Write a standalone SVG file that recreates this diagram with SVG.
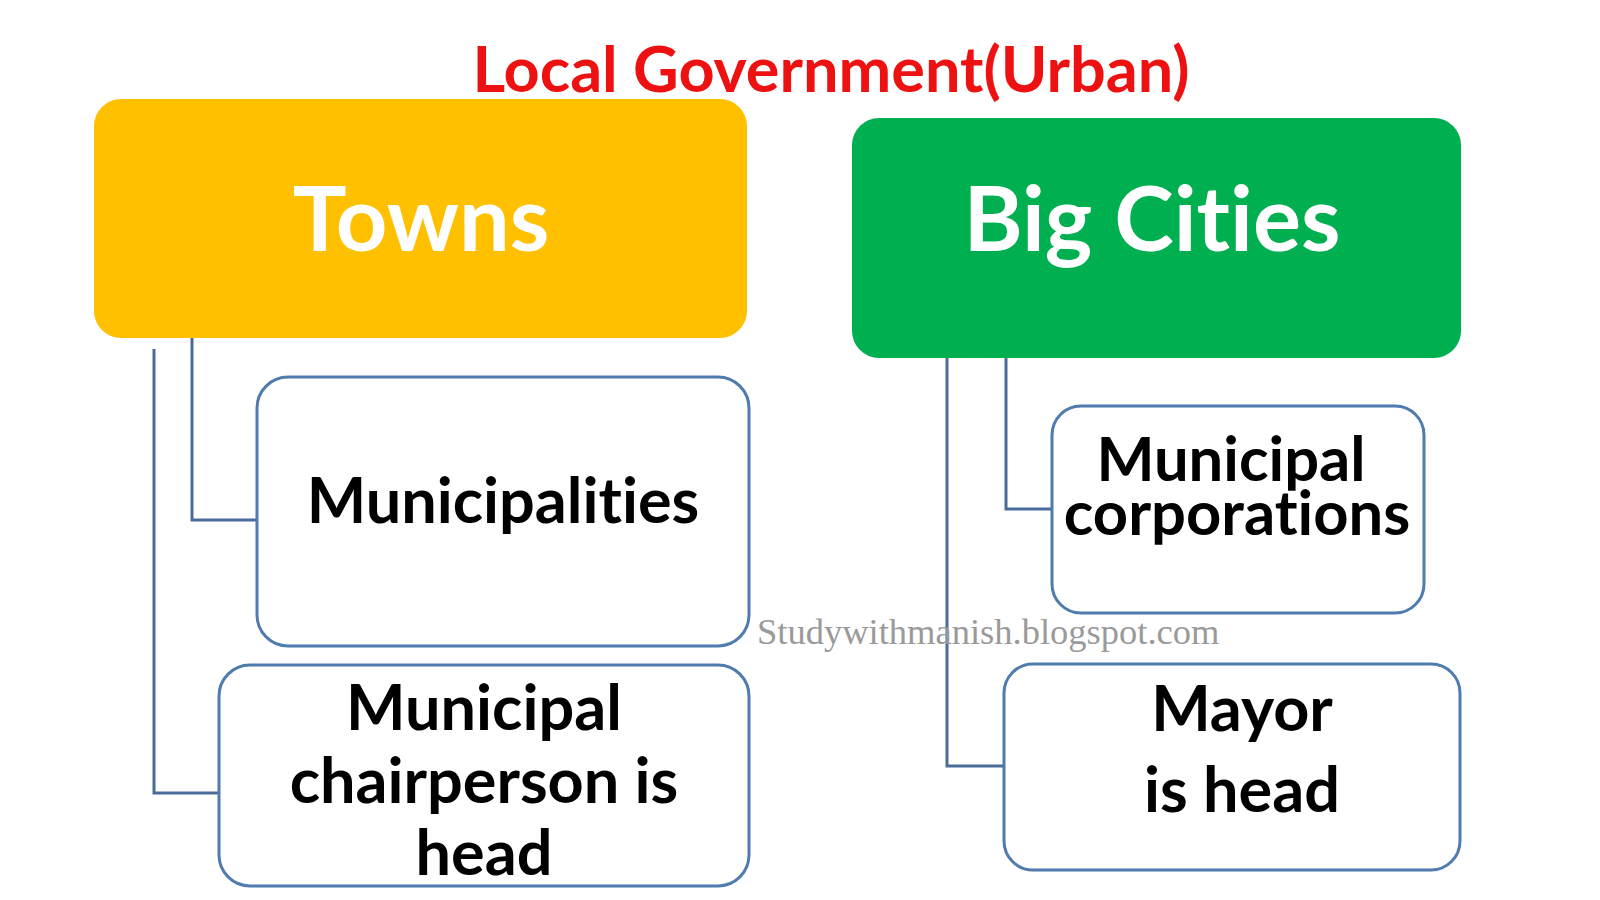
<svg xmlns="http://www.w3.org/2000/svg" width="1600" height="900" viewBox="0 0 1600 900">
<style>
text{font-variant-ligatures:none;font-feature-settings:"liga" 0,"clig" 0}
.title{font-family:"Lato","Open Sans","Liberation Sans",sans-serif;font-weight:bold;fill:#EE1111;font-size:63px;text-anchor:middle}
.head{font-family:"Lato","Open Sans","Liberation Sans",sans-serif;font-weight:bold;fill:#FFFFFF;font-size:90px;text-anchor:middle}
.lbl{font-family:"Lato","Open Sans","Liberation Sans",sans-serif;font-weight:bold;fill:#000000;font-size:63px;text-anchor:middle}
.lbl2{font-size:61.5px}
.child{fill:#FFFFFF;stroke:#4F7BAE;stroke-width:3}
.conn{fill:none;stroke:#4A6C9A;stroke-width:3}
.wm{font-family:"Liberation Serif",serif;fill:#9A9A9A;font-size:36.5px}
</style>
<rect width="1600" height="900" fill="#FFFFFF"/>
<text class="title" x="831" y="92">Local Government(Urban)</text>
<g id="connectors">
<path class="conn" d="M192,338 V520 H257"/>
<path class="conn" d="M154,349 V793 H219"/>
<path class="conn" d="M1006,358 V509 H1052"/>
<path class="conn" d="M947,354 V766 H1004"/>
</g>
<g id="towns">
<rect x="94" y="99" width="653" height="239" rx="27" fill="#FFC000"/>
<text class="head" x="421" y="251">Towns</text>
</g>
<g id="big-cities">
<rect x="852" y="118" width="609" height="240" rx="27" fill="#00B050"/>
<text class="head" x="1152" y="251">Big Cities</text>
</g>
<g id="municipalities">
<rect class="child" x="257" y="377" width="492" height="269" rx="31"/>
<text class="lbl" x="503" y="523">Municipalities</text>
</g>
<g id="municipal-chairperson">
<rect class="child" x="219" y="665" width="530" height="221" rx="31"/>
<text class="lbl" x="484" y="730">Municipal</text>
<text class="lbl" x="484" y="803">chairperson is</text>
<text class="lbl" x="484" y="875">head</text>
</g>
<g id="municipal-corporations">
<rect class="child" x="1052" y="406" width="372" height="207" rx="29"/>
<text class="lbl lbl2" x="1231" y="481">Municipal</text>
<text class="lbl lbl2" x="1237" y="535">corporations</text>
</g>
<g id="mayor">
<rect class="child" x="1004" y="664" width="456" height="206" rx="29"/>
<text class="lbl" x="1242" y="731">Mayor</text>
<text class="lbl" x="1242" y="812">is head</text>
</g>
<text class="wm" x="757" y="644">Studywithmanish.blogspot.com</text>
</svg>
